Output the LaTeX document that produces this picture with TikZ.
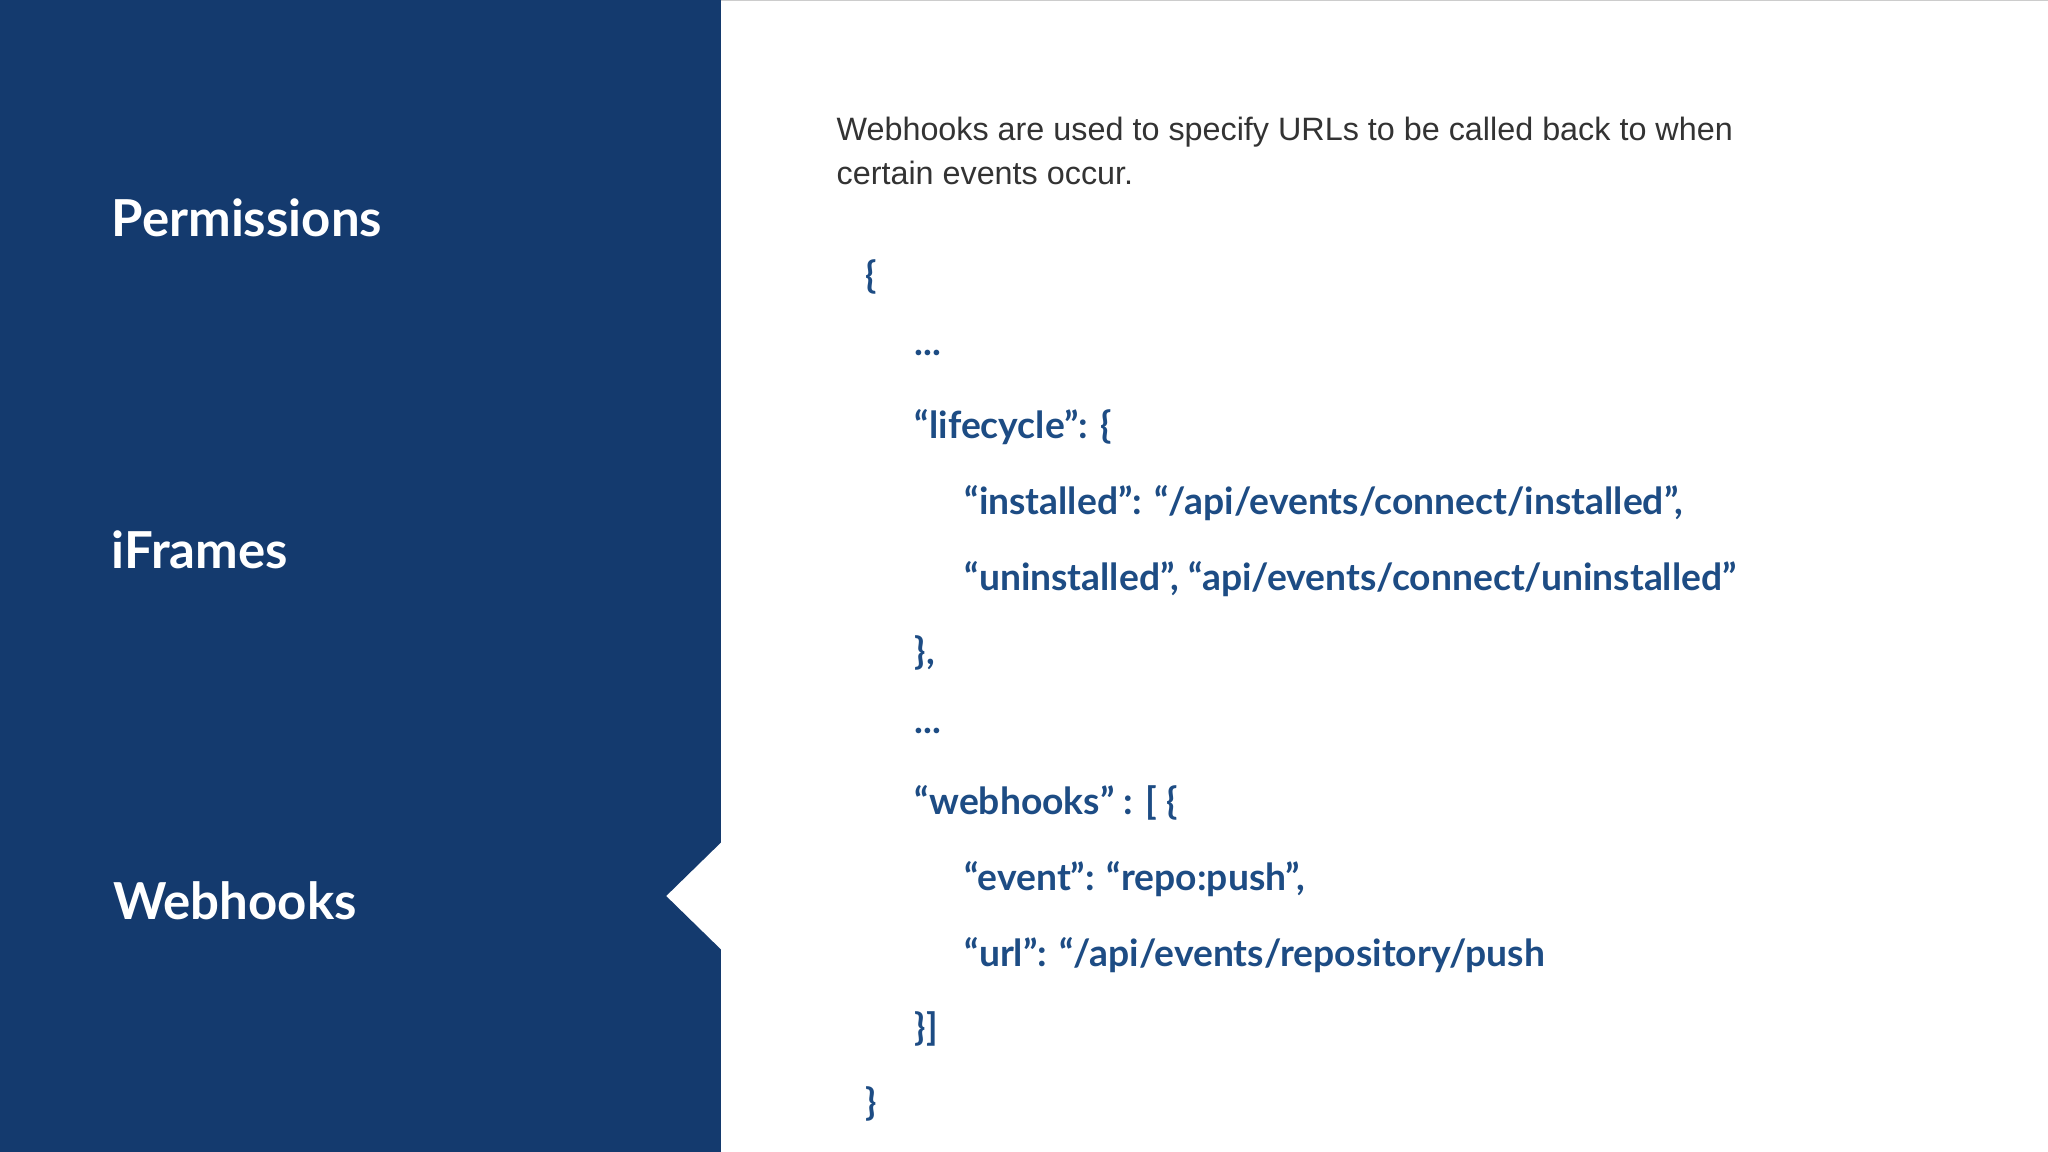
\documentclass[tikz,border=0pt]{standalone}
\usepackage{fontspec}
\setmainfont{Lato}
\newfontfamily\descfont{Liberation Sans}
\definecolor{panel}{HTML}{143A6E}
\definecolor{code}{HTML}{1D4C84}
\definecolor{desc}{HTML}{333333}
\begin{document}
\begin{tikzpicture}[x=0.013061cm,y=-0.013061cm,
  side/.style={anchor=west,text=white,font=\fontsize{14.5}{16}\selectfont\bfseries,inner sep=0},
  codeline/.style={anchor=west,text=code,font=\fontsize{10.6}{12}\selectfont\bfseries,inner sep=0},
  desctext/.style={anchor=north west,text=desc,font=\descfont\fontsize{9.2}{12.6}\selectfont,inner sep=0,align=left}]
\useasboundingbox (0,0) rectangle (1568,882);
\fill[white] (0,0) rectangle (1568,882);
\fill[panel] (0,0) -- (552,0) -- (552,645) -- (510,686) -- (552,727) -- (552,882) -- (0,882) -- cycle;
\draw[black!20] (552,0.5) -- (1568,0.5);
\node[side] (perm) at (85,167) {Permissions};
\node[side] (ifr) at (85,421) {iFrames};
\node[side] (web) at (86,690) {Webhooks};
\node[desctext] (d) at (640,89) {Webhooks are used to specify URLs to be called back to when\\certain events occur.};
\node[codeline] (c1) at (662,212) {\{};
\node[codeline] (c2) at (700,270) {...};
\node[codeline] (c3) at (700,327) {“lifecycle”: \{};
\node[codeline] (c4) at (738,385) {“installed”: “/api/events/connect/installed”,};
\node[codeline] (c5) at (738,443) {“uninstalled”, “api/events/connect/uninstalled”};
\node[codeline] (c6) at (700,500) {\},};
\node[codeline] (c7) at (700,560) {...};
\node[codeline] (c8) at (700,615) {“webhooks” : [ \{};
\node[codeline] (c9) at (738,673) {“event”: “repo:push”,};
\node[codeline] (c10) at (738,731) {“url”: “/api/events/repository/push};
\node[codeline] (c11) at (700,788) {\}]};
\node[codeline] (c12) at (662,845) {\}};
\end{tikzpicture}
\end{document}
